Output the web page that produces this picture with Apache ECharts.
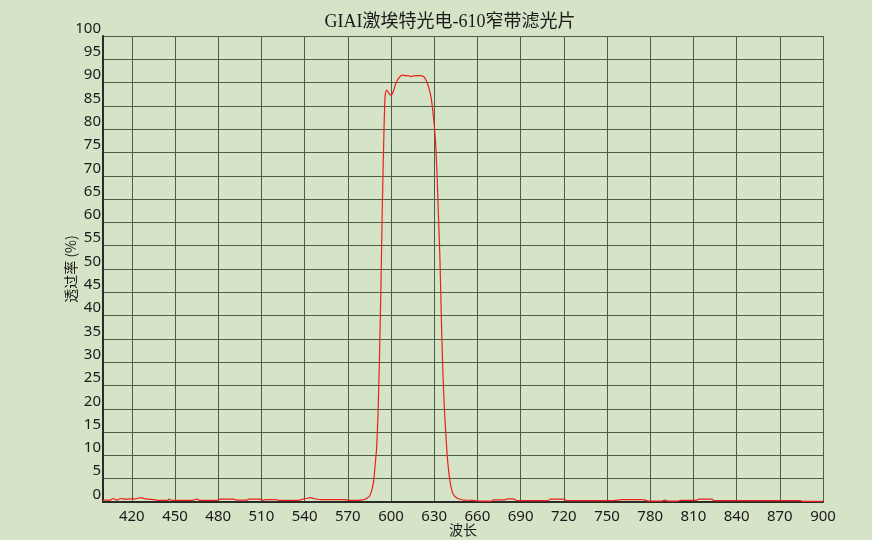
<!DOCTYPE html>
<html>
<head>
<meta charset="utf-8">
<script src="https://cdn.jsdelivr.net/npm/echarts@6/dist/echarts.min.js"></script>
<style>
html,body{margin:0;padding:0;background:#d5e3c7;}
#c{width:872px;height:540px;}
</style>
</head>
<body>
<div id="c"></div>
<script>
const titleText = 'GIAI激埃特光电-610窄带滤光片';
const xName = '波长';
const yName = '透过率 (%)';
const xTicks = [420, 450, 480, 510, 540, 570, 600, 630, 660, 690, 720, 750, 780, 810, 840, 870, 900];

const wavelength = [
  400, 405, 407, 409.7, 412.5, 415.5, 419, 422.4, 426.4, 429.4, 432, 436.3, 437, 445, 445.6, 448, 462, 465.3, 467, 479,
  481.5, 490.5, 493, 500, 501, 509, 511, 513, 520, 522, 536, 538.5, 541, 544, 546, 548.6, 551, 569, 570, 577,
  579, 581, 582, 584, 585, 586, 587, 588, 589, 590, 591, 592, 593, 594, 595, 595.5, 596, 597, 598, 599,
  600, 601, 602, 603, 604, 605, 606, 607, 608, 610, 612, 614, 615, 617, 620, 622, 623, 624, 625, 626,
  627, 628, 629, 630, 631, 632, 633, 634, 635, 636, 637, 638, 639, 640, 641, 642, 643, 644, 645, 646,
  648, 650, 657, 659.7, 670, 671, 679, 680.5, 685, 687.5, 709, 710.6, 719.7, 722, 755, 760, 775, 779,
  788, 790.5, 792, 799, 801, 812, 813.5, 823, 824, 884, 886, 900
];
const transmittance = [
  0.4, 0.4, 0.75, 0.4, 0.75, 0.6, 0.65, 0.65, 0.95, 0.65, 0.6, 0.5, 0.36, 0.36, 0.6, 0.36, 0.36, 0.6, 0.36, 0.36,
  0.6, 0.6, 0.4, 0.4, 0.6, 0.6, 0.36, 0.5, 0.5, 0.36, 0.36, 0.6, 0.75, 0.95, 0.75, 0.6, 0.5, 0.5, 0.36, 0.36,
  0.4, 0.5, 0.6, 0.95, 1.2, 1.9, 3.0, 4.6, 8.0, 11.5, 19, 31, 46, 64, 78, 84, 87.5, 88.4, 88.0, 87.5,
  87.3, 87.6, 88.5, 89.5, 90.3, 90.8, 91.2, 91.5, 91.6, 91.5, 91.5, 91.3, 91.4, 91.5, 91.5, 91.4, 91.2, 90.7, 90.0, 89.2,
  88.0, 86.5, 84.0, 81.0, 77.0, 70, 61, 52, 39, 28, 20.5, 15, 10, 6.8, 4.4, 2.8, 1.8, 1.3, 1.0, 0.8,
  0.6, 0.4, 0.36, 0.2, 0.2, 0.45, 0.45, 0.65, 0.65, 0.3, 0.3, 0.6, 0.6, 0.3, 0.3, 0.5, 0.5, 0.2,
  0.2, 0.4, 0.2, 0.2, 0.36, 0.36, 0.6, 0.6, 0.3, 0.3, 0.15, 0.15
];

const seriesData = wavelength.map((w, i) => [w, transmittance[i]]);

const chart = echarts.init(document.getElementById('c'), null, {renderer: 'canvas'});
const labelFont = '"Noto Sans", "Open Sans", sans-serif';
chart.setOption({
  backgroundColor: '#d5e3c7',
  animation: false,
  title: {
    text: titleText,
    left: 445,
    top: 8,
    textAlign: 'center',
    textStyle: {
      fontFamily: '"Liberation Serif", "Noto Sans CJK SC", serif',
      fontSize: 18,
      fontWeight: 'normal',
      color: '#1a1a1a'
    }
  },
  grid: {left: 103, right: 49, top: 36, bottom: 38, containLabel: false, outerBoundsMode: 'none', show: false},
  xAxis: {
    type: 'value',
    min: 400,
    max: 900,
    name: xName,
    nameLocation: 'middle',
    nameGap: 21,
    nameMoveOverlap: false,
    nameTextStyle: {fontFamily: '"Noto Sans CJK SC", sans-serif', fontSize: 14, color: '#1a1a1a'},
    axisLine: {show: true, lineStyle: {color: '#2b2b2b', width: 2}},
    axisTick: {show: false, customValues: xTicks},
    axisLabel: {customValues: xTicks, fontFamily: labelFont, fontSize: 15, color: '#1a1a1a', margin: 7},
    splitLine: {show: true, lineStyle: {color: '#4f5c4c', width: 1}}
  },
  yAxis: {
    type: 'value',
    min: 0,
    max: 100,
    interval: 5,
    name: yName,
    nameLocation: 'middle',
    nameGap: 25,
    nameRotate: 90,
    nameMoveOverlap: false,
    nameTextStyle: {fontFamily: '"Noto Sans CJK SC", sans-serif', fontSize: 14, color: '#1a1a1a'},
    axisLine: {show: true, lineStyle: {color: '#2b2b2b', width: 2}},
    axisTick: {show: false},
    axisLabel: {fontFamily: labelFont, fontSize: 15, color: '#1a1a1a', margin: 2, verticalAlign: 'bottom', lineHeight: 15},
    splitLine: {show: true, lineStyle: {color: '#4f5c4c', width: 1}}
  },
  series: [{
    type: 'line',
    data: seriesData,
    showSymbol: false,
    smooth: 0.2,
    lineStyle: {color: '#f01e1e', width: 1.2},
    z: 5
  }]
});
</script>
</body>
</html>
